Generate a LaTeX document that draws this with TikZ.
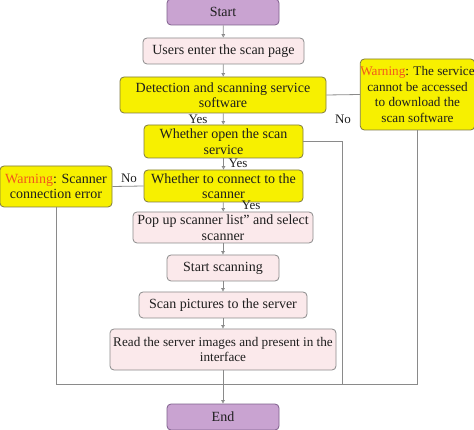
\documentclass[tikz,border=0pt]{standalone}
\usepackage{fontspec}
\setmainfont{Liberation Serif}
\usetikzlibrary{arrows.meta, positioning}

\definecolor{termfill}{HTML}{C9A3D1}
\definecolor{termline}{HTML}{7E5F8C}
\definecolor{stepfill}{HTML}{FBE9EB}
\definecolor{stepline}{HTML}{8A8A8A}
\definecolor{askfill}{HTML}{F7F000}
\definecolor{askline}{HTML}{7F7A40}
\definecolor{warncol}{HTML}{F2581C}
\definecolor{inkcol}{HTML}{1E1E1E}

\tikzset{
    box/.style={rounded corners=4pt, line width=0.8pt, align=center, inner sep=1pt, text=inkcol, font=\fontsize{14}{15.5}\selectfont},
    term/.style={box, fill=termfill, draw=termline},
    stepbox/.style={box, fill=stepfill, draw=stepline},
    ask/.style={box, fill=askfill, draw=askline},
    link/.style={draw=stepline, line width=0.8pt},
    flow/.style={link, -{Triangle[open, length=3.5pt, width=3.5pt]}},
    tag/.style={text=inkcol, font=\fontsize{13}{13}\selectfont, inner sep=0pt}
}

\begin{document}
\begin{tikzpicture}[x=1pt, y=-1pt]
            \useasboundingbox (0,0) rectangle (474,430);

            % main column
            \node[term, minimum width=112pt, minimum height=26pt] (start) at (223,12) {Start};
            \node[stepbox, minimum width=161pt, minimum height=26pt] (users) at (223.5,51) {Users enter the scan page};
            \node[ask, minimum width=206pt, minimum height=36pt] (detect) at (223,95) {Detection and scanning service\\software};
            \node[ask, minimum width=159pt, minimum height=33pt] (open) at (223.5,141.5) {Whether open the scan\\service};
            \node[ask, minimum width=159pt, minimum height=32pt] (connect) at (223.5,186) {Whether to connect to the\\scanner};
            \node[stepbox, minimum width=180pt, minimum height=31pt] (popup) at (223,227.5) {Pop up scanner list" and select\\scanner};
            \node[stepbox, minimum width=112pt, minimum height=26pt] (scanning) at (223,268) {Start scanning};
            \node[stepbox, minimum width=168pt, minimum height=26pt] (pictures) at (223,305) {Scan pictures to the server};
            \node[stepbox, minimum width=226pt, minimum height=41pt, font=\fontsize{13.2}{15.5}\selectfont] (read) at (223,349.5) {Read the server images and present in the\\interface};
            \node[term, minimum width=112pt, minimum height=26pt] (end) at (223,417) {End};

            % warnings
            \node[ask, minimum width=111pt, minimum height=71pt, inner sep=0pt, font=\fontsize{13.2}{15.5}\selectfont] (warnsoft) at (417.5,94.5) {\textcolor{warncol}{Warning}: The service\\cannot be accessed\\to download the\\scan software};
            \node[ask, minimum width=112pt, minimum height=41pt] (warnscan) at (56,186.5) {\textcolor{warncol}{Warning}: Scanner\\connection error};

            % arrows down the column
            \draw[flow] (start) -- (users);
            \draw[flow] (users) -- (detect);
            \draw[flow] (detect) -- (open);
            \draw[flow] (open) -- (connect);
            \draw[flow] (connect) -- (popup);
            \draw[flow] (popup) -- (scanning);
            \draw[flow] (scanning) -- (pictures);
            \draw[flow] (pictures) -- (read);
            \draw[flow] (read) -- (end);

            % the No branches and the bottom line
            \coordinate (openturn) at (342,384);
            \coordinate (busleft) at (warnscan.south |- openturn);
            \coordinate (busright) at (warnsoft.south |- openturn);
            \draw[link] (detect.east) -- (warnsoft.west);
            \draw[link] (connect.west) -- (warnscan.east);
            \draw[link] (open.east) -| (openturn);
            \draw[link] (warnscan.south) -- (busleft) -- (busright) -- (warnsoft.south);

            \node[tag] (yes1) at (198,119) {Yes};
            \node[tag] (yes2) at (238,163.5) {Yes};
            \node[tag] (yes3) at (251,205.5) {Yes};
            \node[tag] (no1) at (343,119) {No};
            \node[tag] (no2) at (129,178) {No};
     \end{tikzpicture}
\end{document}
